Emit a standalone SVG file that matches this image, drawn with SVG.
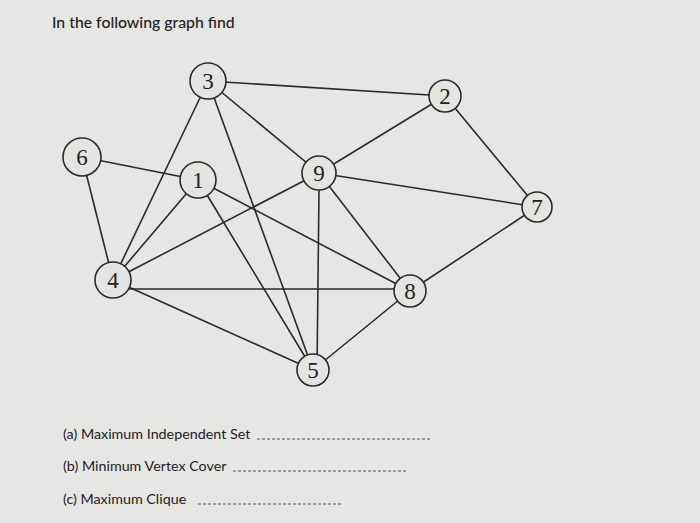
<svg xmlns="http://www.w3.org/2000/svg" width="700" height="523" viewBox="0 0 700 523">
<style>
.e{stroke:#2a2a2a;stroke-width:1.6;fill:none}
.n circle{fill:#e4e4e2;stroke:#2a2a2a;stroke-width:1.6}
.n text{font-family:"Liberation Serif",serif;font-size:23px;fill:#222;text-anchor:middle}
.t{font-family:"Lato","Liberation Sans",sans-serif;fill:#222}
.d{stroke:#555;stroke-width:1;stroke-dasharray:3 2}
</style>
<rect width="700" height="523" fill="#e6e6e4"/>
<text class="t" x="52" y="28" font-size="15.8" font-weight="500">In the following graph find</text>
<g id="edges">
<line class="e" x1="208" y1="81" x2="445" y2="96"/>
<line class="e" x1="208" y1="81" x2="319" y2="173"/>
<line class="e" x1="208" y1="81" x2="313" y2="370"/>
<line class="e" x1="208" y1="81" x2="113" y2="280"/>
<line class="e" x1="445" y1="96" x2="319" y2="173"/>
<line class="e" x1="445" y1="96" x2="537" y2="207"/>
<line class="e" x1="82" y1="157" x2="198" y2="180"/>
<line class="e" x1="82" y1="157" x2="113" y2="280"/>
<line class="e" x1="198" y1="180" x2="410" y2="291"/>
<line class="e" x1="198" y1="180" x2="113" y2="280"/>
<line class="e" x1="198" y1="180" x2="313" y2="370"/>
<line class="e" x1="319" y1="173" x2="113" y2="280"/>
<line class="e" x1="319" y1="190" x2="317" y2="370"/>
<line class="e" x1="319" y1="173" x2="410" y2="291"/>
<line class="e" x1="319" y1="173" x2="537" y2="207"/>
<line class="e" x1="113" y1="289" x2="410" y2="289"/>
<line class="e" x1="113" y1="280" x2="313" y2="370"/>
<line class="e" x1="410" y1="291" x2="537" y2="207"/>
<line class="e" x1="410" y1="291" x2="313" y2="370"/>
</g>
<g id="n3" class="n"><circle cx="208" cy="81" r="18"/><text x="208" y="89">3</text></g>
<g id="n2" class="n"><circle cx="445" cy="96" r="16"/><text x="445" y="104">2</text></g>
<g id="n6" class="n"><circle cx="82" cy="157" r="19"/><text x="82" y="165">6</text></g>
<g id="n1" class="n"><circle cx="198" cy="180" r="18"/><text x="198" y="188">1</text></g>
<g id="n9" class="n"><circle cx="319" cy="173" r="17"/><text x="319" y="181">9</text></g>
<g id="n7" class="n"><circle cx="537" cy="207" r="15"/><text x="537" y="215">7</text></g>
<g id="n4" class="n"><circle cx="113" cy="280" r="18"/><text x="113" y="288">4</text></g>
<g id="n8" class="n"><circle cx="410" cy="291" r="16"/><text x="410" y="299">8</text></g>
<g id="n5" class="n"><circle cx="313" cy="370" r="16"/><text x="313" y="378">5</text></g>
<text class="t" x="63" y="439" font-size="14.3">(a) Maximum Independent Set</text>
<line class="d" x1="257" y1="439" x2="432" y2="439"/>
<text class="t" x="63" y="471" font-size="14.3">(b) Minimum Vertex Cover</text>
<line class="d" x1="233" y1="471" x2="407" y2="471"/>
<text class="t" x="63" y="504" font-size="14.3">(c) Maximum Clique</text>
<line class="d" x1="198" y1="504" x2="342" y2="504"/>
</svg>
